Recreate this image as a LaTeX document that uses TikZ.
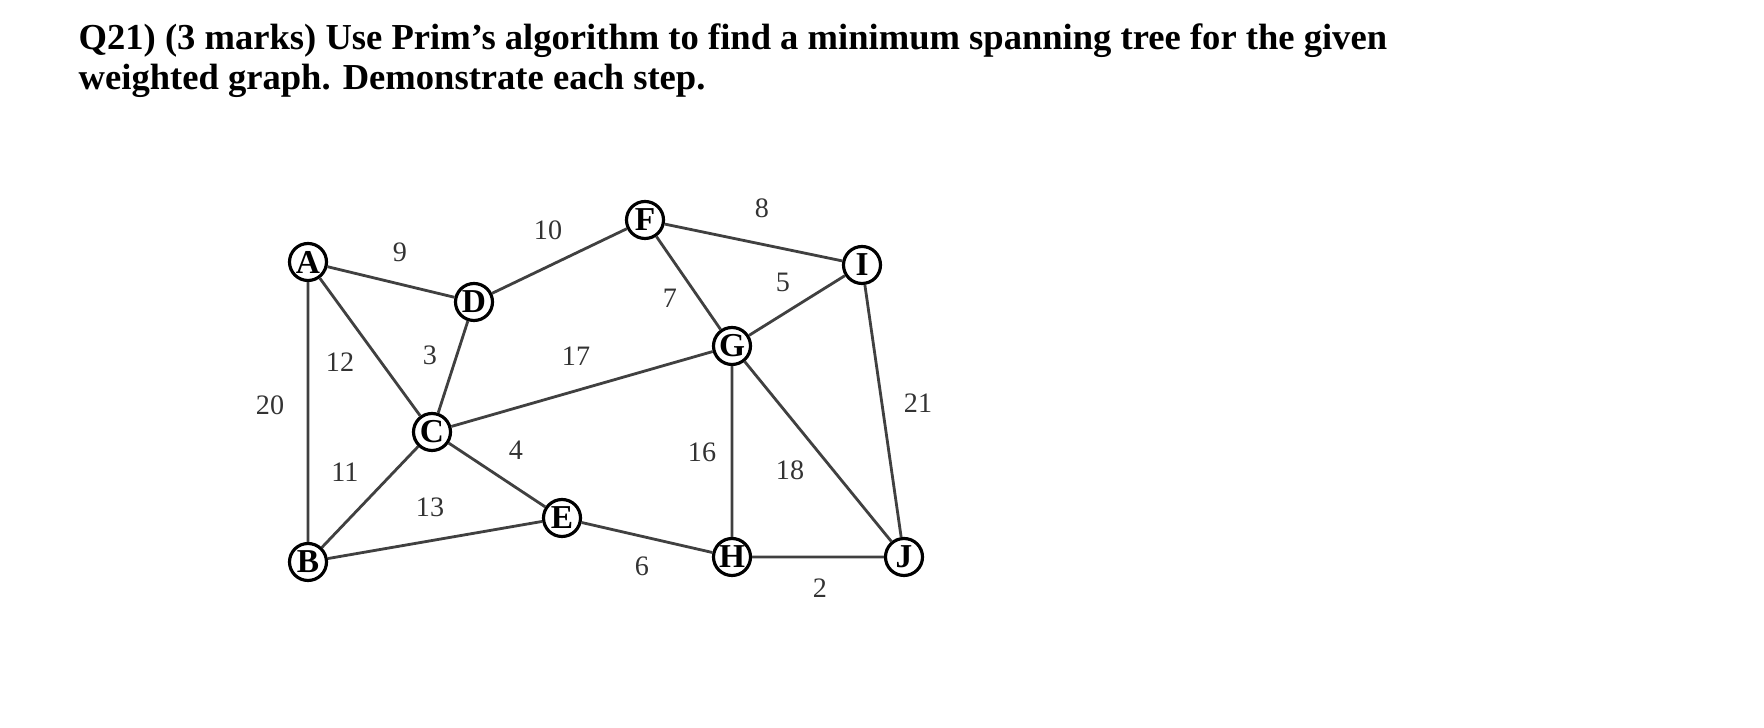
\documentclass[tikz,border=0pt]{standalone}
\usepackage{fontspec}
\setmainfont{Liberation Serif}
\begin{document}
\begin{tikzpicture}[x=0.01cm,y=-0.01cm,
  v/.style={circle,draw,line width=0.9pt,minimum size=0.37cm,inner sep=0pt,font=\fontsize{9.5}{10}\selectfont\bfseries},
  w/.style={font=\fontsize{8}{9}\selectfont,text=black!80},
  e/.style={line width=0.8pt,draw=black!75}]
\useasboundingbox (0,0) rectangle (1764,728);
\node[anchor=base west,inner sep=0,font=\fontsize{10.4}{12}\selectfont\bfseries] (t1) at (78,50) {Q21) (3 marks) Use Prim’s algorithm to find a minimum spanning tree for the given};
\node[anchor=base west,inner sep=0,font=\fontsize{10.4}{12}\selectfont\bfseries] (t2) at (78,90) {weighted graph. Demonstrate each step.};
\node[v] (A) at (308,262) {A};
\node[v] (B) at (308,562) {B};
\node[v] (C) at (432,432) {C};
\node[v] (D) at (474,302) {D};
\node[v] (E) at (562,518) {E};
\node[v] (F) at (645,220) {F};
\node[v] (G) at (732,346) {G};
\node[v] (H) at (732,557) {H};
\node[v] (I) at (862,265) {I};
\node[v] (J) at (904,557) {J};
\draw[e] (A)--(D) (A)--(C) (A)--(B) (D)--(C) (D)--(F) (F)--(I) (F)--(G) (G)--(I) (C)--(G)
 (C)--(E) (C)--(B) (B)--(E) (E)--(H) (G)--(H) (G)--(J) (H)--(J) (I)--(J);
\node[w] (l9) at (400,252) {9};
\node[w] (l10) at (548,230) {10};
\node[w] (l8) at (762,208) {8};
\node[w] (l5) at (783,282) {5};
\node[w] (l7) at (670,298) {7};
\node[w] (l12) at (340,362) {12};
\node[w] (l3) at (430,355) {3};
\node[w] (l17) at (576,356) {17};
\node[w] (l20) at (270,405) {20};
\node[w] (l21) at (918,403) {21};
\node[w] (l4) at (516,450) {4};
\node[w] (l11) at (345,472) {11};
\node[w] (l16) at (702,452) {16};
\node[w] (l18) at (790,470) {18};
\node[w] (l13) at (430,507) {13};
\node[w] (l6) at (642,566) {6};
\node[w] (l2) at (820,588) {2};
\end{tikzpicture}
\end{document}
